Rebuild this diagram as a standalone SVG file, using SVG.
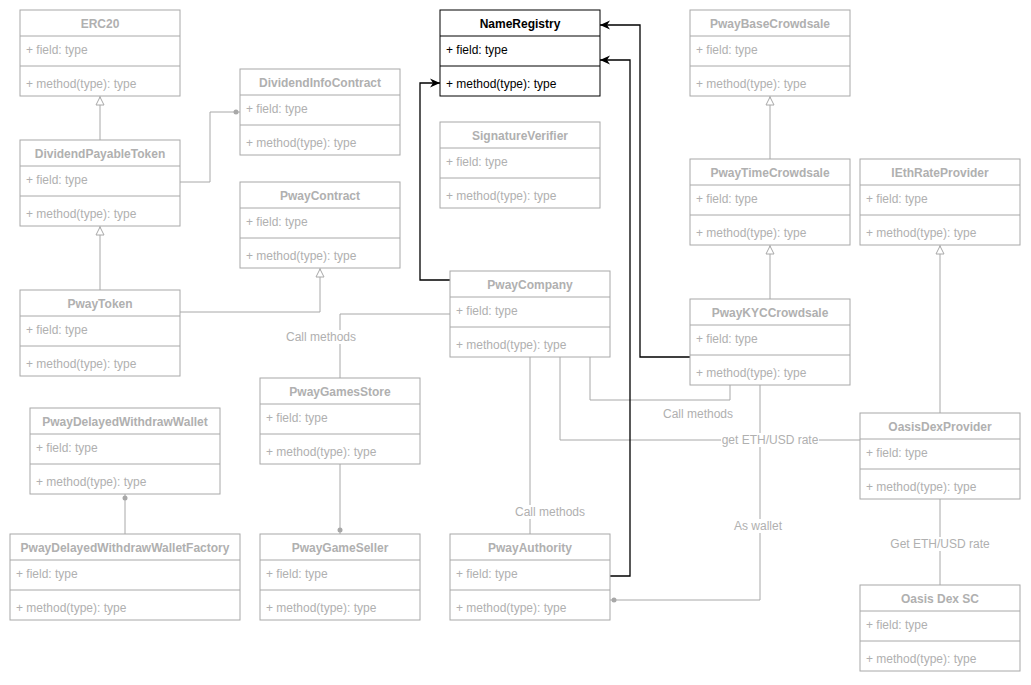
<svg xmlns="http://www.w3.org/2000/svg" width="1031" height="685" viewBox="0 0 1031 685">
<style>
.box rect{fill:#fff;stroke:#a8a8a8;stroke-width:1}
.box line{stroke:#a8a8a8;stroke-width:1}
.box text{font-family:"Liberation Sans",Arial,sans-serif;font-size:12px;fill:#b0b0b0}
.box .t{font-weight:bold;text-anchor:middle}
.dark rect{stroke:#000}
.dark line{stroke:#000}
.dark text{fill:#000}
.c{fill:none;stroke:#a8a8a8;stroke-width:1}
.k{fill:none;stroke:#000;stroke-width:1.3}
.lbl{font-family:"Liberation Sans",Arial,sans-serif;font-size:12px;fill:#b0b0b0;text-anchor:middle}
.lb{fill:#fff}
</style>
<defs>
<marker id="gen" markerWidth="12" markerHeight="12" refX="10" refY="5" orient="auto" markerUnits="userSpaceOnUse"><path d="M1,1 L9,5 L1,9 z" fill="#fff" stroke="#a8a8a8"/></marker>
<marker id="arr" markerWidth="12" markerHeight="12" refX="10" refY="5" orient="auto" markerUnits="userSpaceOnUse"><path d="M0,0.5 L10,5 L0,9.5 L3,5 z" fill="#000"/></marker>
<marker id="dot" markerWidth="10" markerHeight="10" refX="7" refY="3" orient="auto" markerUnits="userSpaceOnUse"><circle cx="3" cy="3" r="2.5" fill="#a8a8a8"/></marker>
</defs>
<rect width="1031" height="685" fill="#fff"/>
<g id="connectors">
<path class="c" d="M100,140 V96" marker-end="url(#gen)"/>
<path class="c" d="M100,290 V226" marker-end="url(#gen)"/>
<path class="c" d="M180,182 H210 V112 H240" marker-end="url(#dot)"/>
<path class="c" d="M180,312 H320 V268" marker-end="url(#gen)"/>
<path class="c" d="M450,314 H340 V378"/>
<path class="c" d="M340,464 V534" marker-end="url(#dot)"/>
<path class="c" d="M125,534 V494" marker-end="url(#dot)"/>
<path class="c" d="M590,357 V400 H730 V385"/>
<path class="c" d="M560,357 V440 H860"/>
<path class="c" d="M530,357 V534"/>
<path class="c" d="M770,299 V245" marker-end="url(#gen)"/>
<path class="c" d="M770,159 V96" marker-end="url(#gen)"/>
<path class="c" d="M940,413 V245" marker-end="url(#gen)"/>
<path class="c" d="M760,385 V600 H610" marker-end="url(#dot)"/>
<path class="c" d="M940,499 V585"/>
<path class="k" d="M450,280 H420 V83 H440" marker-end="url(#arr)"/>
<path class="k" d="M610,576 H630 V60 H600" marker-end="url(#arr)"/>
<path class="k" d="M690,357 H640 V25 H600" marker-end="url(#arr)"/>
<rect class="lb" x="286" y="330" width="70" height="14"/>
<text class="lbl" x="321" y="341">Call methods</text>
<rect class="lb" x="663" y="406" width="70" height="14"/>
<text class="lbl" x="698" y="418">Call methods</text>
<rect class="lb" x="721" y="433" width="98" height="14"/>
<text class="lbl" x="770" y="444">get ETH/USD rate</text>
<rect class="lb" x="516" y="505" width="70" height="14"/>
<text class="lbl" x="550" y="516">Call methods</text>
<rect class="lb" x="733" y="519" width="52" height="14"/>
<text class="lbl" x="758" y="530">As wallet</text>
<rect class="lb" x="893" y="537" width="96" height="14"/>
<text class="lbl" x="940" y="548">Get ETH/USD rate</text>
</g>
<g id="ERC20" class="box" transform="translate(20,10)"><rect width="160" height="86"/><line x1="0" y1="26" x2="160" y2="26"/><line x1="0" y1="56" x2="160" y2="56"/><text class="t" x="80" y="18">ERC20</text><text x="6" y="44">+ field: type</text><text x="6" y="78">+ method(type): type</text></g>
<g id="DividendPayableToken" class="box" transform="translate(20,140)"><rect width="160" height="86"/><line x1="0" y1="26" x2="160" y2="26"/><line x1="0" y1="56" x2="160" y2="56"/><text class="t" x="80" y="18">DividendPayableToken</text><text x="6" y="44">+ field: type</text><text x="6" y="78">+ method(type): type</text></g>
<g id="PwayToken" class="box" transform="translate(20,290)"><rect width="160" height="86"/><line x1="0" y1="26" x2="160" y2="26"/><line x1="0" y1="56" x2="160" y2="56"/><text class="t" x="80" y="18">PwayToken</text><text x="6" y="44">+ field: type</text><text x="6" y="78">+ method(type): type</text></g>
<g id="DividendInfoContract" class="box" transform="translate(240,69)"><rect width="160" height="86"/><line x1="0" y1="26" x2="160" y2="26"/><line x1="0" y1="56" x2="160" y2="56"/><text class="t" x="80" y="18">DividendInfoContract</text><text x="6" y="44">+ field: type</text><text x="6" y="78">+ method(type): type</text></g>
<g id="PwayContract" class="box" transform="translate(240,182)"><rect width="160" height="86"/><line x1="0" y1="26" x2="160" y2="26"/><line x1="0" y1="56" x2="160" y2="56"/><text class="t" x="80" y="18">PwayContract</text><text x="6" y="44">+ field: type</text><text x="6" y="78">+ method(type): type</text></g>
<g id="NameRegistry" class="box dark" transform="translate(440,10)"><rect width="160" height="86"/><line x1="0" y1="26" x2="160" y2="26"/><line x1="0" y1="56" x2="160" y2="56"/><text class="t" x="80" y="18">NameRegistry</text><text x="6" y="44">+ field: type</text><text x="6" y="78">+ method(type): type</text></g>
<g id="SignatureVerifier" class="box" transform="translate(440,122)"><rect width="160" height="86"/><line x1="0" y1="26" x2="160" y2="26"/><line x1="0" y1="56" x2="160" y2="56"/><text class="t" x="80" y="18">SignatureVerifier</text><text x="6" y="44">+ field: type</text><text x="6" y="78">+ method(type): type</text></g>
<g id="PwayBaseCrowdsale" class="box" transform="translate(690,10)"><rect width="160" height="86"/><line x1="0" y1="26" x2="160" y2="26"/><line x1="0" y1="56" x2="160" y2="56"/><text class="t" x="80" y="18">PwayBaseCrowdsale</text><text x="6" y="44">+ field: type</text><text x="6" y="78">+ method(type): type</text></g>
<g id="PwayTimeCrowdsale" class="box" transform="translate(690,159)"><rect width="160" height="86"/><line x1="0" y1="26" x2="160" y2="26"/><line x1="0" y1="56" x2="160" y2="56"/><text class="t" x="80" y="18">PwayTimeCrowdsale</text><text x="6" y="44">+ field: type</text><text x="6" y="78">+ method(type): type</text></g>
<g id="IEthRateProvider" class="box" transform="translate(860,159)"><rect width="160" height="86"/><line x1="0" y1="26" x2="160" y2="26"/><line x1="0" y1="56" x2="160" y2="56"/><text class="t" x="80" y="18">IEthRateProvider</text><text x="6" y="44">+ field: type</text><text x="6" y="78">+ method(type): type</text></g>
<g id="PwayCompany" class="box" transform="translate(450,271)"><rect width="160" height="86"/><line x1="0" y1="26" x2="160" y2="26"/><line x1="0" y1="56" x2="160" y2="56"/><text class="t" x="80" y="18">PwayCompany</text><text x="6" y="44">+ field: type</text><text x="6" y="78">+ method(type): type</text></g>
<g id="PwayKYCCrowdsale" class="box" transform="translate(690,299)"><rect width="160" height="86"/><line x1="0" y1="26" x2="160" y2="26"/><line x1="0" y1="56" x2="160" y2="56"/><text class="t" x="80" y="18">PwayKYCCrowdsale</text><text x="6" y="44">+ field: type</text><text x="6" y="78">+ method(type): type</text></g>
<g id="PwayGamesStore" class="box" transform="translate(260,378)"><rect width="160" height="86"/><line x1="0" y1="26" x2="160" y2="26"/><line x1="0" y1="56" x2="160" y2="56"/><text class="t" x="80" y="18">PwayGamesStore</text><text x="6" y="44">+ field: type</text><text x="6" y="78">+ method(type): type</text></g>
<g id="PwayDelayedWithdrawWallet" class="box" transform="translate(30,408)"><rect width="190" height="86"/><line x1="0" y1="26" x2="190" y2="26"/><line x1="0" y1="56" x2="190" y2="56"/><text class="t" x="95" y="18">PwayDelayedWithdrawWallet</text><text x="6" y="44">+ field: type</text><text x="6" y="78">+ method(type): type</text></g>
<g id="PwayDelayedWithdrawWalletFactory" class="box" transform="translate(10,534)"><rect width="230" height="86"/><line x1="0" y1="26" x2="230" y2="26"/><line x1="0" y1="56" x2="230" y2="56"/><text class="t" x="115" y="18">PwayDelayedWithdrawWalletFactory</text><text x="6" y="44">+ field: type</text><text x="6" y="78">+ method(type): type</text></g>
<g id="PwayGameSeller" class="box" transform="translate(260,534)"><rect width="160" height="86"/><line x1="0" y1="26" x2="160" y2="26"/><line x1="0" y1="56" x2="160" y2="56"/><text class="t" x="80" y="18">PwayGameSeller</text><text x="6" y="44">+ field: type</text><text x="6" y="78">+ method(type): type</text></g>
<g id="PwayAuthority" class="box" transform="translate(450,534)"><rect width="160" height="86"/><line x1="0" y1="26" x2="160" y2="26"/><line x1="0" y1="56" x2="160" y2="56"/><text class="t" x="80" y="18">PwayAuthority</text><text x="6" y="44">+ field: type</text><text x="6" y="78">+ method(type): type</text></g>
<g id="OasisDexProvider" class="box" transform="translate(860,413)"><rect width="160" height="86"/><line x1="0" y1="26" x2="160" y2="26"/><line x1="0" y1="56" x2="160" y2="56"/><text class="t" x="80" y="18">OasisDexProvider</text><text x="6" y="44">+ field: type</text><text x="6" y="78">+ method(type): type</text></g>
<g id="OasisDexSC" class="box" transform="translate(860,585)"><rect width="160" height="86"/><line x1="0" y1="26" x2="160" y2="26"/><line x1="0" y1="56" x2="160" y2="56"/><text class="t" x="80" y="18">Oasis Dex SC</text><text x="6" y="44">+ field: type</text><text x="6" y="78">+ method(type): type</text></g>
</svg>
